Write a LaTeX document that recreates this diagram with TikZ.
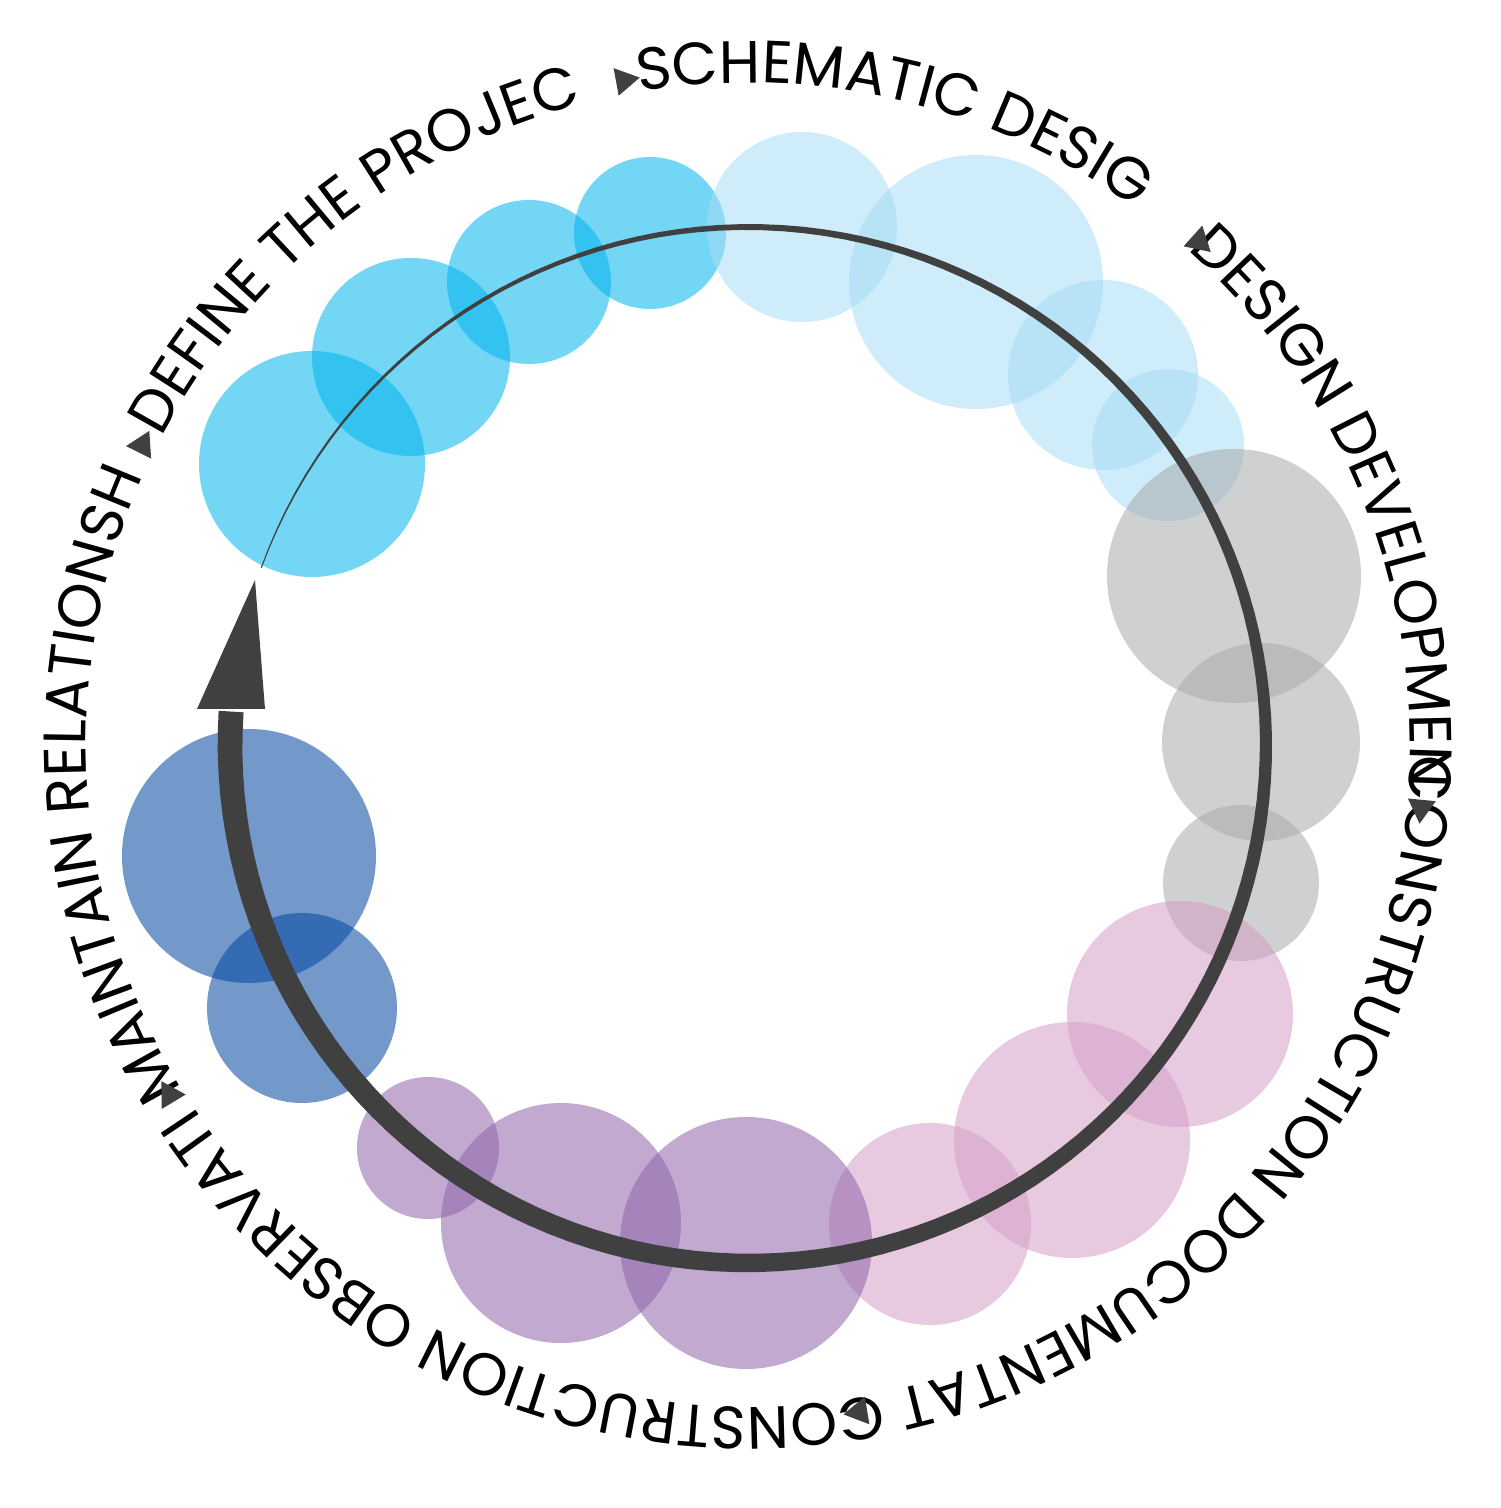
\documentclass[tikz,border=0pt]{standalone}
\usepackage{fontspec}
\setmainfont{Poppins}
\usetikzlibrary{decorations.text}
\definecolor{bright}{HTML}{00B4EC}
\definecolor{pale}{HTML}{A6DCF5}
\definecolor{stone}{HTML}{A7A9AC}
\definecolor{rose}{HTML}{D49EC6}
\definecolor{plum}{HTML}{8E63A9}
\definecolor{navy}{HTML}{0045A0}
\definecolor{ink}{HTML}{404040}
\tikzset{
  bubble/.style={fill=#1, fill opacity=0.55, draw=none},
  label arc/.style={decorate, decoration={text along path, text align=center,
    text={|\fontsize{17}{17}\selectfont|#1}}},
  marker/.style={fill=ink}
}
\newcommand{\lbl}[3]{\path[label arc={#3}] (#1:6.62) arc[start angle=#1, end angle=#2, radius=6.62];}
\newcommand{\stagemark}[1]{\fill[marker, rotate=#1] (6.62,0.1) -- (6.9,0.1) -- (6.76,-0.14) -- cycle;}
\begin{document}
\begin{tikzpicture}
\useasboundingbox (-7.48,-7.63) rectangle (7.52,7.45);
% bubbles
\foreach \x/\y/\r in {312/464/113, 411/357/99, 529/282/82, 650/233/76}
  {\fill[bubble=bright] ({(\x-748)/100},{(745-\y)/100}) circle ({\r/100});}
\foreach \x/\y/\r in {802/227/95, 976/282/127, 1103/375/95, 1168/445/76}
  {\fill[bubble=pale] ({(\x-748)/100},{(745-\y)/100}) circle ({\r/100});}
\foreach \x/\y/\r in {1234/576/127, 1261/742/99, 1241/883/78}
  {\fill[bubble=stone] ({(\x-748)/100},{(745-\y)/100}) circle ({\r/100});}
\foreach \x/\y/\r in {1180/1014/113, 1072/1140/118, 930/1224/101}
  {\fill[bubble=rose] ({(\x-748)/100},{(745-\y)/100}) circle ({\r/100});}
\foreach \x/\y/\r in {746/1243/126, 561/1223/120, 428/1148/71}
  {\fill[bubble=plum] ({(\x-748)/100},{(745-\y)/100}) circle ({\r/100});}
\foreach \x/\y/\r in {249/856/127, 302/1008/95}
  {\fill[bubble=navy] ({(\x-748)/100},{(745-\y)/100}) circle ({\r/100});}
% growing loop
\fill[ink] plot[domain=160:-183.7, samples=150]
  ({(5.18+0.005+0.12*(160-\x)/343.7)*cos(\x)},{(5.18+0.005+0.12*(160-\x)/343.7)*sin(\x)})
  -- plot[domain=-183.7:160, samples=150]
  ({(5.18-0.005-0.12*(160-\x)/343.7)*cos(\x)},{(5.18-0.005-0.12*(160-\x)/343.7)*sin(\x)}) -- cycle;
\fill[ink] (-5.51,0.36) -- (-4.83,0.36) -- (-4.93,1.65) -- cycle;
% stage names
\lbl{96}{54}{SCHEMATIC DESIGN}
\lbl{44}{-2}{DESIGN DEVELOPMENT}
\lbl{-10}{-77}{CONSTRUCTION DOCUMENTATION}
\lbl{-86}{-147}{CONSTRUCTION OBSERVATION}
\lbl{-154}{-203}{MAINTAIN RELATIONSHIP}
\lbl{149}{105}{DEFINE THE PROJECT}
% markers
\foreach \a in {100.4, 48, -5.5, -80.7, -149, 153.5}
  {\stagemark{\a}}
\end{tikzpicture}
\end{document}
